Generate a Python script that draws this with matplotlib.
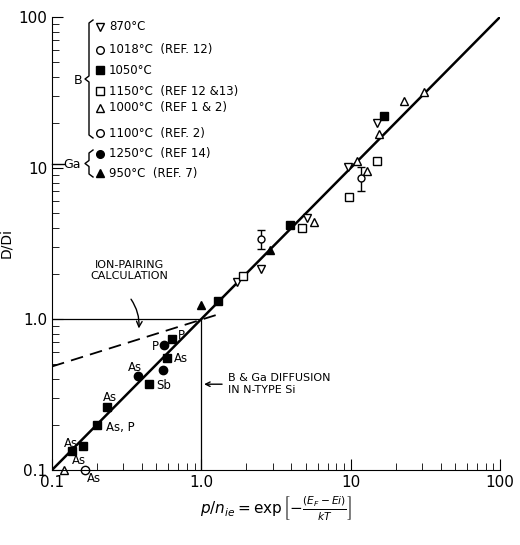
import matplotlib
matplotlib.use("Agg")
import matplotlib.pyplot as plt
import numpy as np

# data: (x, y) per series
inv_tri_870_x = [2.5, 5.1, 9.6, 15.0, 1.73]
inv_tri_870_y = [2.15, 4.7, 10.1, 20.0, 1.77]
circ_1018_x = [2.5, 11.7]
circ_1018_y = [3.4, 8.6]
circ_1018_err = [0.5, 1.6]
sq_1050_x = [3.9, 16.6, 1.29, 0.136, 0.161, 0.2, 0.233, 0.446, 0.59, 0.64]
sq_1050_y = [4.2, 22.0, 1.32, 0.134, 0.145, 0.2, 0.26, 0.37, 0.55, 0.74]
sq_1150_x = [1.9, 4.7, 9.8, 14.9]
sq_1150_y = [1.93, 4.0, 6.4, 11.1]
tri_1000_x = [5.7, 11.0, 12.9, 15.5, 22.8, 31.0, 0.12]
tri_1000_y = [4.4, 11.1, 9.5, 16.7, 27.8, 32.0, 0.1]
circ_1100_x = [0.166]
circ_1100_y = [0.1]
dot_1250_x = [0.377, 0.55, 0.56]
dot_1250_y = [0.42, 0.46, 0.67]
ftri_950_x = [0.99, 2.9]
ftri_950_y = [1.23, 2.87]

legend_labels = ["870°C", "1018°C  (REF. 12)", "1050°C", "1150°C  (REF 12 &13)",
                 "1000°C  (REF 1 & 2)", "1100°C  (REF. 2)", "1250°C  (REF 14)", "950°C  (REF. 7)"]

W, H = 520, 545
fig = plt.figure(figsize=(5.2, 5.45), dpi=100)
ax = fig.add_axes([52/W, 1-470/H, 448/W, 453/H])
ax.set_xscale('log'); ax.set_yscale('log')
ax.set_xlim(0.1, 100); ax.set_ylim(0.1, 100)

k = dict(color='black', linestyle='none', markersize=6, clip_on=False)
ax.plot(inv_tri_870_x, inv_tri_870_y, marker='v', mfc='white', **k)
ax.errorbar(circ_1018_x, circ_1018_y, yerr=circ_1018_err, fmt='o', mfc='white', mec='black',
            ecolor='black', capsize=3, markersize=5, lw=1)
ax.plot(sq_1050_x, sq_1050_y, marker='s', mfc='black', **k)
ax.plot(sq_1150_x, sq_1150_y, marker='s', mfc='white', **k)
ax.plot(tri_1000_x, tri_1000_y, marker='^', mfc='white', **k)
ax.plot(circ_1100_x, circ_1100_y, marker='o', mfc='white', **k)
ax.plot(dot_1250_x, dot_1250_y, marker='o', mfc='black', **k)
ax.plot(ftri_950_x, ftri_950_y, marker='^', mfc='black', **k)

xs = np.array([0.1, 100])
ax.plot(xs, xs, color='black', lw=1.8, zorder=1)
xd = np.array([0.1, 1.3])
ax.plot(xd, 0.99*xd**0.31, color='black', lw=1.3, dashes=(7, 4))
ax.plot([0.1, 1], [1, 1], color='black', lw=0.9)
ax.plot([1, 1], [0.1, 1], color='black', lw=0.9)

ax.tick_params(which='both', direction='in', labelsize=11, length=8)
ax.tick_params(which='minor', length=5)
ax.set_xticks([0.1, 1, 10, 100]); ax.set_xticklabels(['0.1', '1.0', '10', '100'])
ax.set_yticks([0.1, 1, 10, 100]); ax.set_yticklabels(['0.1', '1.0', '10', '100'])
ax.set_ylabel('D/Di', fontsize=10)
ax.set_xlabel(r'$p/n_{ie}=\exp\left[-\frac{(E_F-Ei)}{kT}\right]$', fontsize=11)
for s in ['top', 'right']:
    ax.spines[s].set_visible(False)

# point labels
lab = [("As", 0.12, 0.15), ("As", 0.135, 0.115), ("As", 0.17, 0.088), ("As", 0.22, 0.3),
       ("As, P", 0.23, 0.19), ("As", 0.32, 0.48), ("Sb", 0.5, 0.36), ("As", 0.66, 0.55),
       ("P", 0.47, 0.66), ("P", 0.7, 0.78)]
for t, x, y in lab:
    ax.text(x, y, t, fontsize=8.5, va='center')

ax.text(0.33, 2.1, "ION-PAIRING\nCALCULATION", fontsize=8, ha='center', va='center')
ax.annotate("", xy=(0.38, 0.83), xytext=(0.33, 1.4),
            arrowprops=dict(arrowstyle='->', color='black', connectionstyle='arc3,rad=-0.2'))
ax.annotate("B & Ga DIFFUSION\nIN N-TYPE Si", xy=(1.0, 0.37), xytext=(1.5, 0.37),
            fontsize=8, va='center',
            arrowprops=dict(arrowstyle='->', color='black'))

# legend
def P(x, y):
    return (x/W, 1-y/H)
rows = [27, 50, 70, 91, 108, 133, 154, 173]
mk = [('v', 'white'), ('o', 'white'), ('s', 'black'), ('s', 'white'),
      ('^', 'white'), ('o', 'white'), ('o', 'black'), ('^', 'black')]
for (m, fc), yy, t in zip(mk, rows, legend_labels):
    fx, fy = P(100, yy)
    fig.lines.append(plt.Line2D([fx], [fy], marker=m, mfc=fc, mec='black', ms=5.5,
                                transform=fig.transFigure, linestyle='none'))
    fig.text(*P(109, yy), t, fontsize=8.5, va='center')

def brace(xc, y0, y1, w=4):
    ym = (y0 + y1) / 2
    pts = [(xc + w, y0), (xc, y0 + 3), (xc, ym - 3), (xc - w, ym),
           (xc, ym + 3), (xc, y1 - 3), (xc + w, y1)]
    fx = [P(a, b)[0] for a, b in pts]
    fy = [P(a, b)[1] for a, b in pts]
    fig.lines.append(plt.Line2D(fx, fy, color='black', lw=1, transform=fig.transFigure))

brace(89, 20, 138)
fig.text(*P(78, 80), "B", fontsize=9, va='center', ha='center')
brace(89, 150, 177)
fig.text(*P(72, 164), "Ga", fontsize=9, va='center', ha='center')
fig.lines.append(plt.Line2D([P(52, 0)[0], P(64, 0)[0]], [P(0, 164)[1]] * 2, color='black', lw=1,
                            transform=fig.transFigure))

fig.savefig("out.png", dpi=100)
